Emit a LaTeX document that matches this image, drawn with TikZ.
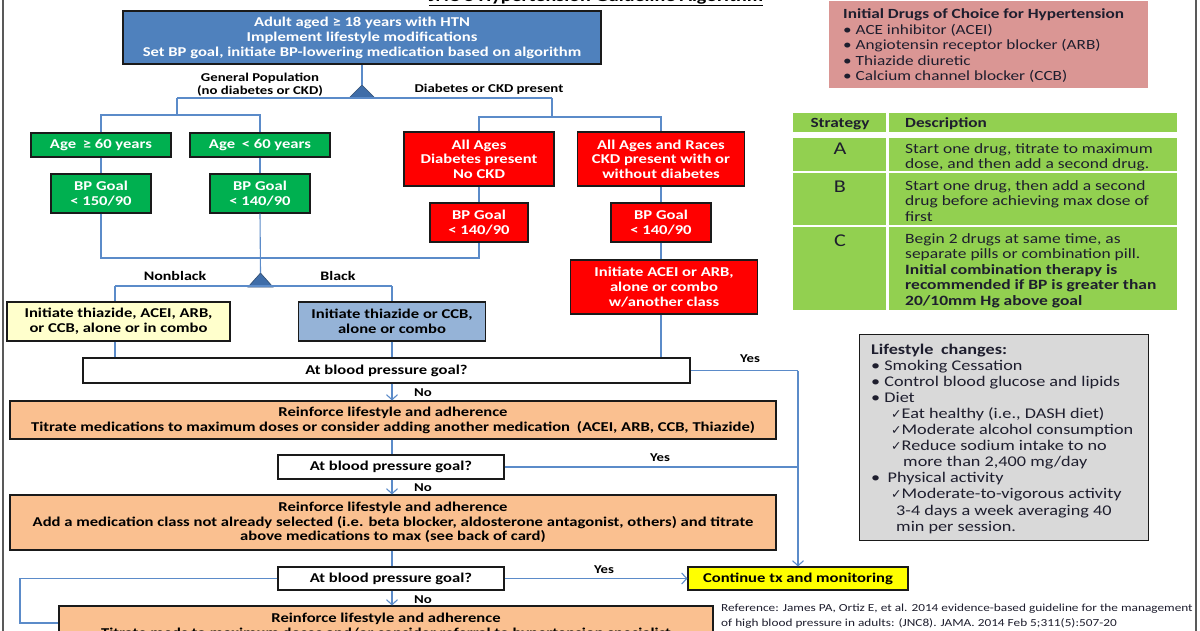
\documentclass[tikz,border=0pt]{standalone}
\usepackage{fontspec}
\setmainfont{Carlito}[FakeStretch=1.23]
\newfontfamily\dejavu{DejaVu Sans}
\usetikzlibrary{arrows.meta}
\definecolor{topblue}{HTML}{4F81BD}
\definecolor{connc}{HTML}{5B8BC9}
\definecolor{trifill}{HTML}{3F6DA8}
\definecolor{gbox}{HTML}{00B050}
\definecolor{rbox}{HTML}{FF0000}
\definecolor{ylw}{HTML}{FFFFCC}
\definecolor{lblue}{HTML}{95B3D7}
\definecolor{orng}{HTML}{FAC090}
\definecolor{contc}{HTML}{FFFF00}
\definecolor{pinkb}{HTML}{DA9694}
\definecolor{tgreen}{HTML}{92D050}
\definecolor{lgray}{HTML}{D9D9D9}
\definecolor{bline}{HTML}{1A1A1A}
\definecolor{txtd}{HTML}{1E1E2E}
\begin{document}
\begin{tikzpicture}[x=1pt,y=-1pt,
  box/.style={draw=bline, line width=1.1pt, inner sep=0pt, align=center,
    font=\bfseries\fontsize{13.5}{15}\selectfont},
  conn/.style={draw=connc, line width=1.1pt},
  arr/.style={conn, -{Straight Barb[length=5pt,width=11pt]}},
  lbl/.style={font=\bfseries\fontsize{12}{13}\selectfont, inner sep=0pt},
  rtxt/.style={font=\fontsize{14}{15.5}\selectfont, inner sep=0pt, align=left, text=txtd},
  tri/.style={fill=trifill, draw=topblue!60!black, line width=0.6pt},
  chk/.style={}]
\useasboundingbox (0,0) rectangle (1200,630);
\fill[white] (0,0) rectangle (1200,630);
% page borders
\draw[gray!70!black, line width=2pt] (3,-5) -- (3,640);
\draw[gray!70!black, line width=1.5pt] (1196,-5) -- (1196,640);
% title (cut off at top)
\node[anchor=base, inner sep=0pt, font=\bfseries\fontsize{16.3}{20}\selectfont] (title) at (596,1.5) {\underline{JNC 8 Hypertension Guideline Algorithm}};

% top box
\node[box, fill=topblue, text=white, minimum width=478, minimum height=53] (top) at (362,37.5)
  {Adult aged ≥ 18 years with HTN\\Implement lifestyle modifications\\Set BP goal, initiate BP-lowering medication based on algorithm};
\filldraw[tri] (349,98) -- (375,98) -- (362,85) -- cycle;
\coordinate (tri1) at (362,85);
\coordinate (jL) at (177,98);
\coordinate (jR) at (552,98);
\coordinate (gL) at (177,115);
\coordinate (rJ) at (552,117);
\node[lbl, align=center] (genpop) at (260,84.5) {General Population\\(no diabetes or CKD)};
\node[lbl] (diab) at (489,89) {Diabetes or CKD present};

% green column
\node[box, fill=gbox, text=white, minimum width=140, minimum height=24] (ge60) at (101,145) {Age\enspace≥ 60 years};
\node[box, fill=gbox, text=white, minimum width=140, minimum height=24] (lt60) at (260,145) {Age\enspace< 60 years};
\node[box, fill=gbox, text=white, minimum width=100, minimum height=39] (bp150) at (101,193.5) {BP Goal\\< 150/90};
\node[box, fill=gbox, text=white, minimum width=100, minimum height=39] (bp140) at (260,193.5) {BP Goal\\< 140/90};

% red column
\node[box, fill=rbox, text=white, minimum width=150, minimum height=54, font=\bfseries\fontsize{13.5}{14.5}\selectfont] (redA) at (479,159) {All Ages\\Diabetes present\\No CKD};
\node[box, fill=rbox, text=white, minimum width=167, minimum height=54, font=\bfseries\fontsize{13.5}{14.5}\selectfont] (redB) at (661,159) {All Ages and Races\\CKD present with or\\without diabetes};
\node[box, fill=rbox, text=white, minimum width=98, minimum height=39] (bpRA) at (479,222.5) {BP Goal\\< 140/90};
\node[box, fill=rbox, text=white, minimum width=100, minimum height=39] (bpRB) at (661,222.5) {BP Goal\\< 140/90};
\node[box, fill=rbox, text=white, minimum width=187, minimum height=54, font=\bfseries\fontsize{13.5}{15}\selectfont] (initRB) at (664,287) {Initiate ACEI or ARB,\\alone or combo\\w/another class};

% race split
\coordinate (hL) at (101,258);
\coordinate (hR) at (479,258);
\filldraw[tri] (248,287) -- (273,287) -- (260.5,273) -- cycle;
\coordinate (tri2) at (260.5,273);
\coordinate (nL) at (115,286);
\coordinate (nR) at (392,286);
\node[lbl, font=\bfseries\fontsize{13}{14}\selectfont] (nonblack) at (175,276) {Nonblack};
\node[lbl, font=\bfseries\fontsize{13}{14}\selectfont] (black) at (338,276) {Black};
\node[box, fill=ylw, minimum width=223, minimum height=39] (yel) at (118.5,321.5) {Initiate thiazide, ACEI, ARB,\\or CCB, alone or in combo};
\node[box, fill=lblue, minimum width=187, minimum height=39] (blu) at (392,321.5) {Initiate thiazide or CCB,\\alone or combo};

% main flow
\node[box, fill=white, minimum width=607, minimum height=25] (q1) at (386.5,370.5) {At blood pressure goal?};
\node[box, fill=orng, minimum width=766, minimum height=38] (or1) at (393,420)
  {Reinforce lifestyle and adherence\\Titrate medications to maximum doses or consider adding another medication\enspace(ACEI, ARB, CCB, Thiazide)};
\node[box, fill=white, minimum width=226, minimum height=24] (q2) at (391,467) {At blood pressure goal?};
\node[box, fill=orng, minimum width=766, minimum height=55, font=\bfseries\fontsize{13.5}{14.5}\selectfont] (or2) at (393,522.5)
  {Reinforce lifestyle and adherence\\Add a medication class not already selected (i.e. beta blocker, aldosterone antagonist, others) and titrate\\above medications to max (see back of card)};
\node[box, fill=white, minimum width=226, minimum height=23] (q3) at (391,578.5) {At blood pressure goal?};
\node[box, fill=contc, minimum width=220, minimum height=23] (cont) at (798,578.5) {Continue tx and monitoring};
\node[box, fill=orng, minimum width=654, minimum height=40] (or3) at (386,626)
  {Reinforce lifestyle and adherence\\Titrate meds to maximum doses and/or consider referral to hypertension specialist};
\coordinate (sp) at (392,0);
\coordinate (yR) at (798,370.5);
\coordinate (lp) at (20,0);
\coordinate (lpb) at (20,623);

% labels
\node[lbl] (yes1) at (750,359) {Yes};
\node[lbl] (yes2) at (660,458) {Yes};
\node[lbl] (yes3) at (604,570) {Yes};
\node[lbl] (no1) at (423,393) {No};
\node[lbl] (no2) at (423,488) {No};
\node[lbl] (no3) at (423,600) {No};

% connectors
\draw[conn] (top.south) -- (tri1);
\draw[conn] (jL) -- (jR);
\draw[conn] (jL) -- (gL);
\draw[conn] (ge60.north) |- (gL) -| (lt60.north);
\draw[conn] (jR) -- (rJ);
\draw[conn] (redA.north) |- (rJ) -| (redB.north);
\draw[conn] (ge60.south) -- (bp150.north);
\draw[conn] (lt60.south) -- (bp140.north);
\draw[conn] (redA.south) -- (bpRA.north);
\draw[conn] (redB.south) -- (bpRB.north);
\draw[conn] (bpRB.south) -- (initRB.north -| bpRB.south);
\draw[conn] (bp150.south) -- (hL) -- (hR) -- (bpRA.south);
\draw[conn] (bp140.south) -- (tri2);
\draw[conn] (nL) -- (nR);
\draw[conn] (nL) -- (yel.north -| nL);
\draw[conn] (nR) -- (blu.north);
\draw[conn] (yel.south -| nL) -- (q1.north -| nL);
\draw[conn] (blu.south) -- (q1.north -| blu.south);
\draw[conn] (initRB.south -| bpRB.south) -- (q1.north -| bpRB.south);
\draw[arr] (q1.south -| sp) -- (or1.north -| sp);
\draw[conn] (or1.south -| sp) -- (q2.north -| sp);
\draw[arr] (q2.south -| sp) -- (or2.north -| sp);
\draw[conn] (or2.south -| sp) -- (q3.north -| sp);
\draw[arr] (q3.south -| sp) -- (or3.north -| sp);
\draw[conn] (q1.east) -- (yR);
\draw[arr] (yR) -- (cont.north);
\draw[conn] (q2.east) -- (q2.east -| yR);
\draw[arr] (q3.east) -- (cont.west);
\draw[conn] (q3.west) -- (q3.west -| lp) -- (lpb) -- (or3.west |- lpb);

% initial drugs panel
\node[fill=pinkb, minimum width=319, minimum height=87, anchor=north west, inner sep=0pt] (pink) at (829,1) {};
\node[rtxt, anchor=north west] (pinktxt) at (843,8.5)
  {\textbf{Initial Drugs of Choice for Hypertension}\\
   • ACE inhibitor (ACEI)\\
   • Angiotensin receptor blocker (ARB)\\
   • Thiazide diuretic\\
   • Calcium channel blocker (CCB)};

% strategy table
\fill[tgreen] (793,113) rectangle (886,132);
\fill[tgreen] (889,113) rectangle (1177,132);
\fill[tgreen] (793,138) rectangle (886,171);
\fill[tgreen] (889,138) rectangle (1177,171);
\fill[tgreen] (793,173) rectangle (886,225);
\fill[tgreen] (889,173) rectangle (1177,225);
\fill[tgreen] (793,227) rectangle (886,310);
\fill[tgreen] (889,227) rectangle (1177,310);
\node[rtxt, font=\bfseries\fontsize{14}{15.5}\selectfont] (hs) at (840,124) {Strategy};
\node[rtxt, font=\bfseries\fontsize{14}{15.5}\selectfont, anchor=west] (hd) at (905,124) {Description};
\node[rtxt, font=\fontsize{18}{20}\selectfont] (sa) at (840,149) {A};
\node[rtxt, font=\fontsize{18}{20}\selectfont] (sb) at (840,187) {B};
\node[rtxt, font=\fontsize{18}{20}\selectfont] (sc) at (840,241) {C};
\node[rtxt, anchor=north west, font=\fontsize{14.2}{15.5}\selectfont] (da) at (905,143) {Start one drug, titrate to maximum\\dose, and then add a second drug.};
\node[rtxt, anchor=north west, font=\fontsize{14.2}{15.5}\selectfont] (db) at (905,180) {Start one drug, then add a second\\drug before achieving max dose of\\first};
\node[rtxt, anchor=north west, font=\fontsize{14.2}{15.5}\selectfont] (dc) at (905,233) {Begin 2 drugs at same time, as\\separate pills or combination pill.\\\textbf{Initial combination therapy is}\\\textbf{recommended if BP is greater than}\\\textbf{20/10mm Hg above goal}};

% lifestyle panel
\node[draw=bline, line width=1.1pt, fill=lgray, minimum width=289, minimum height=206, anchor=north west, inner sep=0pt] (life) at (859,334) {};
\node[rtxt, anchor=north west, font=\fontsize{14.8}{16.1}\selectfont] (lifetxt) at (871,343.5)
  {\textbf{Lifestyle\enspace changes:}\\
   • Smoking Cessation\\
   • Control blood glucose and lipids\\
   • Diet\\
   \hspace*{20pt}{\dejavu\fontsize{12.5}{12}\selectfont✓}Eat healthy (i.e., DASH diet)\\
   \hspace*{20pt}{\dejavu\fontsize{12.5}{12}\selectfont✓}Moderate alcohol consumption\\
   \hspace*{20pt}{\dejavu\fontsize{12.5}{12}\selectfont✓}Reduce sodium intake to no\\
   \hspace*{32pt}more than 2,400 mg/day\\
   •\enspace Physical activity\\
   \hspace*{20pt}{\dejavu\fontsize{12.5}{12}\selectfont✓}Moderate-to-vigorous activity\\
   \hspace*{25pt}3-4 days a week averaging 40\\
   \hspace*{25pt}min per session.};

% reference
\node[rtxt, anchor=north west, font=\fontsize{10.8}{15}\selectfont] (ref) at (721,604)
  {Reference: James PA, Ortiz E, et al. 2014 evidence-based guideline for the management\\of high blood pressure in adults: (JNC8). JAMA. 2014 Feb 5;311(5):507-20};
\end{tikzpicture}
\end{document}
